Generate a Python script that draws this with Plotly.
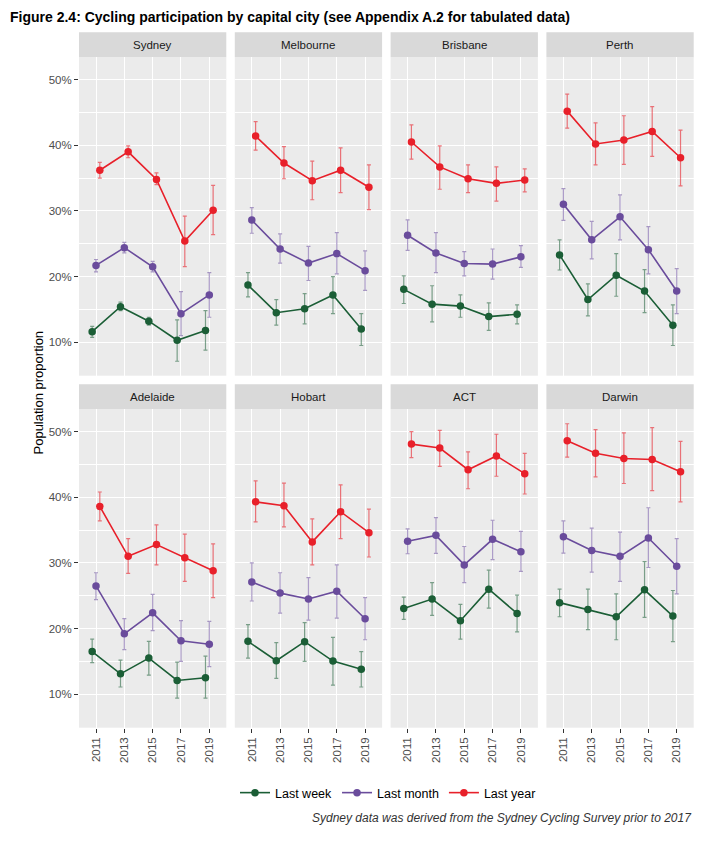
import plotly.graph_objects as go
from plotly.subplots import make_subplots

CITIES = ["Sydney", "Melbourne", "Brisbane", "Perth", "Adelaide", "Hobart", "ACT", "Darwin"]
YEARS = ["2011", "2013", "2015", "2017", "2019"]

# values in %, one row per city
WEEK = [
    [11.6, 15.4, 13.2, 10.3, 11.8],
    [18.7, 14.5, 15.1, 17.2, 12.0],
    [18.05, 15.8, 15.5, 13.9, 14.25],
    [23.3, 16.5, 20.2, 17.8, 12.6],
    [16.5, 13.1, 15.5, 12.1, 12.5],
    [18.05, 15.1, 18.0, 15.05, 13.8],
    [23.05, 24.5, 21.2, 26.0, 22.3],
    [23.95, 22.9, 21.8, 25.9, 21.9],
]
WEEK_LO = [
    [10.75, 14.8, 12.6, 7.1, 8.8],
    [16.9, 12.6, 12.8, 14.35, 9.5],
    [15.9, 13.1, 13.8, 11.8, 12.8],
    [21.0, 14.0, 17.0, 14.5, 9.5],
    [14.8, 11.1, 12.9, 9.4, 9.4],
    [15.5, 12.4, 15.0, 11.4, 11.1],
    [21.4, 22.0, 18.4, 23.1, 19.5],
    [21.8, 19.85, 18.3, 21.7, 18.0],
]
WEEK_HI = [
    [12.4, 16.1, 13.8, 13.4, 14.8],
    [20.6, 16.5, 17.4, 20.0, 14.35],
    [20.1, 18.6, 17.2, 16.0, 15.7],
    [25.6, 18.9, 23.5, 21.05, 15.7],
    [18.4, 15.2, 18.05, 14.9, 15.8],
    [20.6, 17.85, 20.9, 18.65, 16.5],
    [24.8, 27.0, 23.7, 28.9, 25.1],
    [26.0, 26.0, 25.3, 30.2, 25.8],
]

MONTH = [
    [21.7, 24.4, 21.5, 14.35, 17.2],
    [28.6, 24.2, 22.05, 23.5, 20.9],
    [26.3, 23.6, 22.0, 21.9, 23.0],
    [31.0, 25.6, 29.1, 24.1, 17.8],
    [26.5, 19.2, 22.4, 18.15, 17.6],
    [27.1, 25.4, 24.5, 25.7, 21.5],
    [33.3, 34.2, 29.7, 33.6, 31.7],
    [34.0, 31.9, 31.0, 33.8, 29.5],
]
MONTH_LO = [
    [20.7, 23.6, 20.7, 11.0, 13.8],
    [26.6, 22.05, 19.4, 20.4, 17.9],
    [24.0, 20.6, 20.1, 19.6, 21.4],
    [28.55, 22.7, 25.6, 20.4, 14.35],
    [24.4, 16.8, 19.7, 15.0, 14.2],
    [24.2, 22.35, 21.3, 21.6, 18.3],
    [31.4, 31.45, 27.0, 30.5, 28.7],
    [31.5, 28.6, 27.2, 29.3, 25.3],
]
MONTH_HI = [
    [22.6, 25.2, 22.3, 17.7, 20.6],
    [30.5, 26.5, 24.6, 26.7, 23.9],
    [28.65, 26.7, 23.8, 24.2, 24.7],
    [33.4, 28.4, 32.45, 27.6, 21.2],
    [28.5, 21.5, 25.2, 21.2, 21.1],
    [30.0, 28.5, 27.75, 29.7, 24.7],
    [35.2, 36.9, 32.5, 36.5, 34.8],
    [36.4, 35.3, 34.7, 38.4, 33.7],
]

YEAR = [
    [36.2, 39.0, 34.8, 25.4, 30.1],
    [41.4, 37.3, 34.6, 36.2, 33.6],
    [40.5, 36.7, 34.9, 34.2, 34.7],
    [45.2, 40.2, 40.8, 42.1, 38.1],
    [38.6, 31.0, 32.8, 30.8, 28.8],
    [39.3, 38.7, 33.2, 37.8, 34.6],
    [48.1, 47.5, 44.2, 46.3, 43.6],
    [48.6, 46.7, 45.9, 45.75, 43.9],
]
YEAR_LO = [
    [35.0, 38.1, 34.0, 21.5, 26.4],
    [39.25, 34.9, 31.7, 32.8, 30.2],
    [37.9, 33.3, 32.8, 31.5, 32.9],
    [42.6, 37.0, 37.1, 38.3, 33.8],
    [36.4, 28.4, 29.7, 27.2, 24.7],
    [36.25, 35.5, 29.7, 33.7, 30.9],
    [46.05, 44.7, 41.3, 43.2, 40.5],
    [46.1, 43.1, 42.1, 41.0, 39.3],
]
YEAR_HI = [
    [37.4, 39.9, 35.8, 29.2, 33.9],
    [43.6, 39.8, 37.6, 39.6, 37.0],
    [43.1, 39.9, 37.0, 36.7, 36.4],
    [47.8, 43.4, 44.5, 45.9, 42.3],
    [40.8, 33.7, 35.8, 34.4, 32.9],
    [42.5, 42.15, 36.7, 41.9, 38.2],
    [50.0, 50.2, 46.9, 49.6, 46.7],
    [51.2, 50.3, 49.8, 50.6, 48.5],
]

SERIES = [
    ("Last week", WEEK, WEEK_LO, WEEK_HI, "#1B5E36", "rgba(27,94,54,0.55)", -0.135),
    ("Last month", MONTH, MONTH_LO, MONTH_HI, "#6A4C9C", "rgba(106,76,156,0.55)", 0.0),
    ("Last year", YEAR, YEAR_LO, YEAR_HI, "#E8202A", "rgba(232,32,42,0.6)", 0.135),
]

W, H = 720, 856
FONT = "Liberation Sans, Arial, sans-serif"

fig = make_subplots(rows=2, cols=4)

col_px = [(79.0, 226.3), (234.8, 382.1), (390.6, 537.9), (546.4, 693.7)]
row_px = [(57.3, 375.7), (409.3, 727.7)]
STRIP_H = 25.0

for ci, city in enumerate(CITIES):
    r, c = ci // 4 + 1, ci % 4 + 1
    for name, vals, lo, hi, col, ecol, off in SERIES:
        v = vals[ci]
        xs = [i + off for i in range(len(YEARS))]
        fig.add_trace(
            go.Scatter(
                x=xs, y=v, mode="lines+markers", name=name,
                legendgroup=name, showlegend=(ci == 0),
                line=dict(color=col, width=1.6),
                marker=dict(color=col, size=7.5),
                error_y=dict(
                    type="data", symmetric=False,
                    array=[h - y for h, y in zip(hi[ci], v)],
                    arrayminus=[y - l for l, y in zip(lo[ci], v)],
                    color=ecol, thickness=1.2, width=2,
                ),
            ),
            row=r, col=c,
        )

# axes and layout
for ci in range(8):
    r, c = ci // 4, ci % 4
    idx = "" if ci == 0 else str(ci + 1)
    x0, x1 = col_px[c]
    y0, y1 = row_px[r]
    fig.layout["xaxis" + idx].update(
        domain=[x0 / W, x1 / W], range=[-0.6, 4.6],
        tickvals=list(range(len(YEARS))), ticktext=YEARS,
        tickangle=-90, showticklabels=(r == 1),
        ticks="outside" if r == 1 else "", ticklen=4, tickcolor="#333333", tickwidth=1,
        showgrid=True, gridcolor="white", gridwidth=1.1, zeroline=False, showline=False,
        tickfont=dict(family=FONT, size=11.5, color="#4D4D4D"),
    )
    fig.layout["yaxis" + idx].update(
        domain=[1 - y1 / H, 1 - y0 / H], range=[4.9, 53.4],
        tickvals=[10, 20, 30, 40, 50], ticktext=["10%", "20%", "30%", "40%", "50%"],
        showticklabels=(c == 0),
        ticks="outside" if c == 0 else "", ticklen=4, tickcolor="#333333", tickwidth=1,
        showgrid=True, gridcolor="white", gridwidth=1.1, zeroline=False, showline=False,
        minor=dict(tickvals=[5, 15, 25, 35, 45], showgrid=True, gridcolor="white", gridwidth=0.5, ticks=""),
        tickfont=dict(family=FONT, size=11.5, color="#4D4D4D"),
    )
    # strip
    fig.add_shape(
        type="rect", xref="paper", yref="paper",
        x0=x0 / W, x1=x1 / W, y0=1 - y0 / H, y1=1 - (y0 - STRIP_H) / H,
        fillcolor="#D9D9D9", line=dict(width=0), layer="below",
    )
    fig.add_annotation(
        xref="paper", yref="paper", x=(x0 + x1) / 2 / W, y=1 - (y0 - STRIP_H / 2) / H,
        text=CITIES[ci], showarrow=False, xanchor="center", yanchor="middle",
        font=dict(family=FONT, size=11.5, color="#1A1A1A"),
    )

fig.add_annotation(
    xref="paper", yref="paper", x=8 / W, y=1 - 17 / H,
    text="<b>Figure 2.4: Cycling participation by capital city (see Appendix A.2 for tabulated data)</b>",
    showarrow=False, xanchor="left", yanchor="middle",
    font=dict(family=FONT, size=14, color="#000000"),
)
fig.add_annotation(
    xref="paper", yref="paper", x=38 / W, y=1 - 392.5 / H,
    text="Population proportion", textangle=-90, showarrow=False,
    xanchor="center", yanchor="middle",
    font=dict(family=FONT, size=13, color="#000000"),
)
fig.add_annotation(
    xref="paper", yref="paper", x=693.7 / W, y=1 - 818 / H,
    text="<i>Sydney data was derived from the Sydney Cycling Survey prior to 2017</i>",
    showarrow=False, xanchor="right", yanchor="middle",
    font=dict(family=FONT, size=12, color="#333333"),
)

fig.update_layout(
    width=W, height=H, margin=dict(l=0, r=0, t=0, b=0),
    paper_bgcolor="white", plot_bgcolor="#EBEBEB",
    showlegend=True,
    legend=dict(
        orientation="h", x=388 / W, xanchor="center", y=1 - 793 / H, yanchor="middle",
        font=dict(family=FONT, size=12.5, color="#000000"), bgcolor="rgba(0,0,0,0)",
        itemwidth=30, tracegroupgap=0,
    ),
)

fig.write_html(
    "out.html",
    config={"displayModeBar": False},
    post_script="document.body.style.margin='0';document.body.style.padding='0';window.dispatchEvent(new Event('resize'));",
)
